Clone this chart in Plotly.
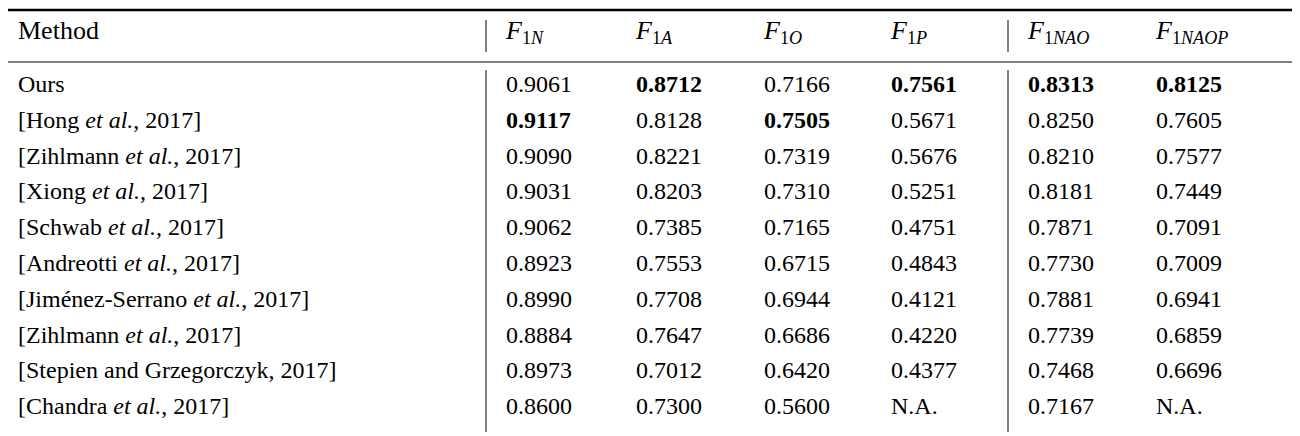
import plotly.graph_objects as go

methods = ["Ours", "[Hong <i>et al.</i>, 2017]", "[Zihlmann <i>et al.</i>, 2017]",
           "[Xiong <i>et al.</i>, 2017]", "[Schwab <i>et al.</i>, 2017]",
           "[Andreotti <i>et al.</i>, 2017]", "[Jiménez-Serrano <i>et al.</i>, 2017]",
           "[Zihlmann <i>et al.</i>, 2017]", "[Stepien and Grzegorczyk, 2017]",
           "[Chandra <i>et al.</i>, 2017]"]
f1n = [0.9061, 0.9117, 0.9090, 0.9031, 0.9062, 0.8923, 0.8990, 0.8884, 0.8973, 0.8600]
f1a = [0.8712, 0.8128, 0.8221, 0.8203, 0.7385, 0.7553, 0.7708, 0.7647, 0.7012, 0.7300]
f1o = [0.7166, 0.7505, 0.7319, 0.7310, 0.7165, 0.6715, 0.6944, 0.6686, 0.6420, 0.5600]
f1p = [0.7561, 0.5671, 0.5676, 0.5251, 0.4751, 0.4843, 0.4121, 0.4220, 0.4377, None]
f1nao = [0.8313, 0.8250, 0.8210, 0.8181, 0.7871, 0.7730, 0.7881, 0.7739, 0.7468, 0.7167]
f1naop = [0.8125, 0.7605, 0.7577, 0.7449, 0.7091, 0.7009, 0.6941, 0.6859, 0.6696, None]
headers = ["Method", "<i>F</i><sub>1<i>N</i></sub>", "<i>F</i><sub>1<i>A</i></sub>",
           "<i>F</i><sub>1<i>O</i></sub>", "<i>F</i><sub>1<i>P</i></sub>",
           "<i>F</i><sub>1<i>NAO</i></sub>", "<i>F</i><sub>1<i>NAOP</i></sub>"]

col_x = [10, 498, 628, 756, 883, 1020, 1148]
header_y = 24
row_y = [78 + i * 35.8 for i in range(len(methods))]
FONT = "Liberation Serif"


def fmt(col):
    best = max(v for v in col if v is not None)
    out = []
    for v in col:
        if v is None:
            out.append("N.A.")
        elif v == best:
            out.append(f"<b>{v:.4f}</b>")
        else:
            out.append(f"{v:.4f}")
    return out


columns = [methods] + [fmt(c) for c in (f1n, f1a, f1o, f1p, f1nao, f1naop)]

fig = go.Figure()
for x, head, col in zip(col_x, headers, columns):
    fig.add_trace(go.Scatter(
        x=[x], y=[header_y], text=[head], mode="text", textposition="middle right",
        textfont=dict(family=FONT, size=26, color="black"),
        hoverinfo="skip", showlegend=False))
    fig.add_trace(go.Scatter(
        x=[x] * len(col), y=row_y,
        text=col, mode="text", textposition="middle right",
        textfont=dict(family=FONT, size=24, color="black"),
        hoverinfo="skip", showlegend=False))

fig.add_shape(type="line", x0=0, x1=1300, y0=2, y1=2, line=dict(color="black", width=2.5))
fig.add_shape(type="line", x0=0, x1=1300, y0=54, y1=54, line=dict(color="black", width=1))
fig.add_shape(type="line", x0=0, x1=1300, y0=432, y1=432, line=dict(color="black", width=2.5))
for vx in (478, 1000):
    fig.add_shape(type="line", x0=vx, x1=vx, y0=12, y1=44, line=dict(color="black", width=1))
    fig.add_shape(type="line", x0=vx, x1=vx, y0=62, y1=424, line=dict(color="black", width=1))

fig.update_layout(
    width=1300, height=436, margin=dict(l=0, r=0, t=0, b=0),
    plot_bgcolor="white", paper_bgcolor="white",
    xaxis=dict(range=[0, 1300], visible=False),
    yaxis=dict(range=[436, 0], visible=False),
)
fig.write_html("out.html")
